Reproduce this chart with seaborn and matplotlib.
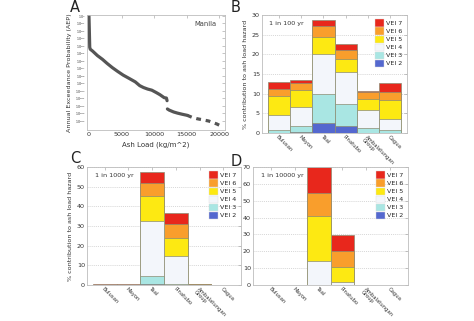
import numpy as np
import pandas as pd
import matplotlib
matplotlib.use("Agg")
import matplotlib.pyplot as plt
from matplotlib.patches import Patch
import seaborn as sns

sns.set_theme(style="white")
plt.rcParams['font.family'] = ['DejaVu Sans']

# ---------------- Data ----------------
# Panel A: hazard curve for Manila (ash load kg/m2, log10 AEP)
seg1_load = [0, 60, 120, 200, 560, 1300, 2075, 2800, 3590, 4400, 5260, 6200, 7120,
             7800, 8380, 9000, 9650, 10300, 10900, 11560, 11900, 12000]
seg1_logaep = [0, -2, -4.2, -4.45, -4.7, -5.3, -5.8, -6.35, -6.9, -7.4, -7.9, -8.35, -8.8,
               -9.3, -9.55, -9.75, -9.9, -10.2, -10.5, -10.9, -10.95, -11.3]
seg2_load = [12050, 12320, 13000, 13590, 14300, 15100]
seg2_logaep = [-12.4, -12.55, -12.8, -12.95, -13.1, -13.25]
seg3_load = [15100, 15800, 16620, 17500, 18380, 19000, 19650, 20560]
seg3_logaep = [-13.25, -13.5, -13.7, -13.85, -14.0, -14.2, -14.4, -14.8]

volcanoes = ["Bulusan", "Mayon", "Taal", "Pinatubo", "Ambalatungan\nGroup", "Cagua"]
vei_levels = ["VEI 2", "VEI 3", "VEI 4", "VEI 5", "VEI 6", "VEI 7"]

# % contribution per VEI (VEI2..VEI7) for each volcano
b_vei2 = [0.0, 0.2, 2.5, 1.9, 0.0, 0.0]
b_vei3 = [0.7, 1.6, 7.5, 5.6, 1.2, 0.7]
b_vei4 = [3.8, 4.8, 10.0, 8.0, 4.6, 2.8]
b_vei5 = [4.9, 4.3, 4.5, 3.4, 2.95, 5.0]
b_vei6 = [1.9, 1.8, 2.8, 2.2, 1.55, 1.8]
b_vei7 = [1.7, 0.7, 1.4, 1.5, 0.3, 2.5]

c_vei2 = [0.0, 0.0, 0.3, 0.0, 0.0, 0.0]
c_vei3 = [0.0, 0.0, 4.2, 0.5, 0.0, 0.0]
c_vei4 = [0.0, 0.0, 28.2, 14.1, 0.0, 0.0]
c_vei5 = [0.0, 0.0, 12.5, 9.4, 0.0, 0.0]
c_vei6 = [0.1, 0.2, 6.9, 7.0, 0.3, 0.0]
c_vei7 = [0.2, 0.5, 5.2, 5.5, 0.4, 0.15]

d_vei2 = [0.0, 0.0, 0.0, 0.0, 0.0, 0.0]
d_vei3 = [0.0, 0.0, 0.0, 0.0, 0.0, 0.0]
d_vei4 = [0.0, 0.0, 14.3, 2.0, 0.0, 0.0]
d_vei5 = [0.0, 0.0, 26.4, 8.8, 0.0, 0.0]
d_vei6 = [0.0, 0.0, 13.7, 9.4, 0.0, 0.0]
d_vei7 = [0.0, 0.0, 15.6, 9.2, 0.0, 0.0]

vei_colors = {"VEI 2": "#5468cf", "VEI 3": "#a9e6e3", "VEI 4": "#f3f6fb",
              "VEI 5": "#fde912", "VEI 6": "#f99e2c", "VEI 7": "#e8271c"}

# ---------------- Figure ----------------
W, H = 474, 321
fig = plt.figure(figsize=(W / 100, H / 100), dpi=100)

def box(l, r, t, b):
    return [l / W, (H - b) / H, (r - l) / W, (b - t) / H]

axA = fig.add_axes(box(87, 225, 15, 130))
axB = fig.add_axes(box(262, 407, 15, 133))
axC = fig.add_axes(box(87, 241, 167, 285))
axD = fig.add_axes(box(253, 408, 167, 285))

spine_col = "#bdbdbd"
fs = 4.6

def style_axes(ax):
    for s in ax.spines.values():
        s.set_color(spine_col)
        s.set_linewidth(0.6)
    ax.tick_params(direction="in", length=2, width=0.4, color="#999999",
                   labelsize=fs, labelcolor="#333333", pad=1.5,
                   top=True, right=True)

# ---- Panel A ----
line_col = "#555555"
for ld, la, ls in [(seg1_load, seg1_logaep, "-"), (seg2_load, seg2_logaep, "-"),
                   (seg3_load, seg3_logaep, (0, (1.5, 1.5)))]:
    dfa = pd.DataFrame({"load": ld, "aep": 10.0 ** np.array(la)})
    sns.lineplot(data=dfa, x="load", y="aep", ax=axA, color=line_col,
                 linewidth=2.3, linestyle=ls, sort=False)
axA.set_yscale("log")
axA.set_ylim(10 ** -15.2, 10 ** 0.1)
axA.set_xlim(-300, 20900)
axA.set_yticks([10.0 ** k for k in range(0, -15, -1)])
axA.set_yticklabels([r"$10^{%d}$" % k for k in range(0, -15, -1)])
axA.yaxis.set_minor_locator(matplotlib.ticker.NullLocator())
axA.set_xticks([0, 5000, 10000, 15000, 20000])
style_axes(axA)
axA.tick_params(axis="y", labelsize=2.35, pad=1)
axA.set_xlabel("Ash Load (kg/m^2)", fontsize=fs + 0.4, color="#333333", labelpad=3)
axA.set_ylabel("Annual Exceedance Probability (AEP)", fontsize=fs, color="#333333", labelpad=2)
axA.text(0.94, 0.92, "Manila", transform=axA.transAxes, ha="right", va="center",
         fontsize=fs + 0.3, color="#444444")

# ---- Bar panels ----
def stacked(ax, layers, ymax, ystep, title, ylabel):
    df = pd.DataFrame({"volcano": volcanoes})
    cum = np.zeros(len(volcanoes))
    cums = {}
    for lvl, vals in zip(vei_levels, layers):
        cum = cum + np.array(vals)
        cums[lvl] = cum.copy()
    for lvl in reversed(vei_levels):
        df["val"] = cums[lvl]
        sns.barplot(data=df, x="volcano", y="val", order=volcanoes, ax=ax,
                    color=vei_colors[lvl], width=1.0, errorbar=None,
                    edgecolor="#8c8c72", linewidth=0.5, saturation=1)
    ax.set_ylim(0, ymax)
    ax.set_xlim(-0.75, len(volcanoes) - 0.25)
    ax.set_yticks(np.arange(0, ymax + 0.1, ystep))
    ax.yaxis.grid(True, linestyle=(0, (1.5, 1.5)), color="#c8c8c8", linewidth=0.5)
    ax.set_axisbelow(True)
    style_axes(ax)
    ax.tick_params(axis="x", pad=1.0)
    ax.set_xlabel("")
    ax.set_ylabel(ylabel, fontsize=fs, color="#333333", labelpad=3)
    ax.set_xticks(range(len(volcanoes)))
    ax.set_xticklabels(volcanoes, rotation=-45, ha="left", va="top",
                       rotation_mode="anchor", fontsize=3.8, color="#333333",
                       linespacing=0.95)
    ax.text(0.05, 0.93, title, transform=ax.transAxes, ha="left", va="center",
            fontsize=fs, color="#333333")
    handles = [Patch(facecolor=vei_colors[l], edgecolor="#dddddd", linewidth=0.3, label=l)
               for l in reversed(vei_levels)]
    ax.legend(handles=handles, loc="upper right", frameon=False, fontsize=fs,
              handlelength=1.5, handleheight=1.4, handletextpad=0.3,
              labelspacing=0.1, borderaxespad=0.5, borderpad=0.2)

ylab = "% contribution to ash load hazard"
stacked(axB, [b_vei2, b_vei3, b_vei4, b_vei5, b_vei6, b_vei7], 30, 5, "1 in 100 yr", ylab)
stacked(axC, [c_vei2, c_vei3, c_vei4, c_vei5, c_vei6, c_vei7], 60, 10, "1 in 1000 yr", ylab)
stacked(axD, [d_vei2, d_vei3, d_vei4, d_vei5, d_vei6, d_vei7], 70, 10, "1 in 10000 yr", "")

# Panel letters
for lab, (x, y) in {"A": (70, 12), "B": (231, 12), "C": (70, 163), "D": (231, 166)}.items():
    fig.text(x / W, (H - y) / H, lab, fontsize=10.5, color="#222222", ha="left", va="baseline")

fig.savefig("out.png", dpi=100)
